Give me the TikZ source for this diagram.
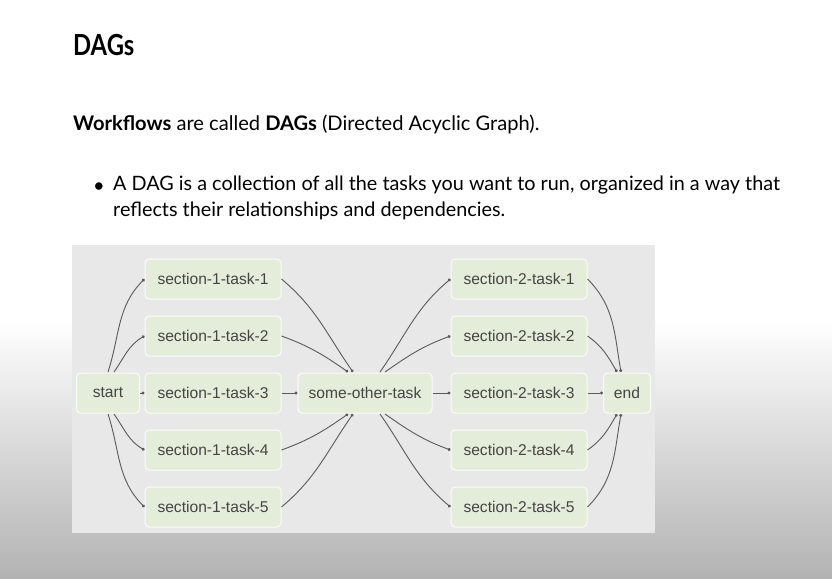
\documentclass[tikz,border=0pt]{standalone}
\usepackage{fontspec}
\setmainfont{Lato}
\setsansfont{Liberation Sans}
\usetikzlibrary{arrows.meta}
\definecolor{bgbox}{HTML}{E8E8E8}
\definecolor{nodefill}{HTML}{E3EDDA}
\definecolor{txt}{HTML}{454545}
\definecolor{edge}{HTML}{5A5A5A}
\begin{document}
\begin{tikzpicture}[x=1pt,y=-1pt,
  task/.style={draw=white!85!nodefill,line width=1pt,fill=nodefill,rounded corners=4pt,
     minimum height=40pt,font=\sffamily\fontsize{15.6}{18}\selectfont,text=txt,inner sep=0pt},
  wide/.style={task,minimum width=136pt},
  conn/.style={draw=edge,line width=0.9pt,-{Circle[length=3pt]}}]
\useasboundingbox (0,0) rectangle (832,578);
\fill[white] (0,0) rectangle (832,321);
\shade[top color=white,bottom color=black!30] (0,320) rectangle (832,578);
\node[anchor=west,font=\bfseries\fontsize{29}{32}\selectfont,xscale=0.82,inner sep=0pt] (title) at (73,45) {DAGs};
\node[anchor=west,font=\fontsize{20.1}{24}\selectfont,inner sep=0pt] (intro) at (73,124) {\textbf{Workflows} are called \textbf{DAGs} (Directed Acyclic Graph).};
\node[font=\fontsize{20}{22}\selectfont] (dot) at (99,188) {•};
\node[anchor=north west,align=left,font=\fontsize{19.8}{26}\selectfont,inner sep=0pt] (bullet) at (113,176)
  {A DAG is a collection of all the tasks you want to run, organized in a way that\\reflects their relationships and dependencies.};
\fill[bgbox] (72,245) rectangle (655,533);
\node[task,minimum width=63pt] (start) at (108,393) {start};
\foreach \i/\y in {1/279,2/336,3/393,4/450,5/507}{
  \node[wide] (a\i) at (213,\y) {section-1-task-\i};
  \node[wide] (b\i) at (519,\y) {section-2-task-\i};
}
\node[wide,minimum width=134pt] (mid) at (365,393) {some-other-task};
\node[task,minimum width=47pt] (end) at (627,393) {end};
\coordinate (s1) at (108,372); \coordinate (s2) at (114,372);
\coordinate (s4) at (114,414); \coordinate (s5) at (108,414);
\draw[conn] (s1) to[out=72,in=225] (a1.west);
\draw[conn] (s2) to[out=55,in=210] (a2.west);
\draw[conn] (start) -- (a3.west);
\draw[conn] (s4) to[out=-55,in=150] (a4.west);
\draw[conn] (s5) to[out=-72,in=135] (a5.west);
\coordinate (m1) at (353,372); \coordinate (m2) at (348,372);
\coordinate (m4) at (348,414); \coordinate (m5) at (353,414);
\draw[conn] (a1.east) to[out=-40,in=125] (m1);
\draw[conn] (a2.east) to[out=-20,in=145] (m2);
\draw[conn] (a3) -- (mid.west);
\draw[conn] (a4.east) to[out=20,in=-145] (m4);
\draw[conn] (a5.east) to[out=40,in=-125] (m5);
\coordinate (n1) at (380,372); \coordinate (n2) at (385,372);
\coordinate (n4) at (385,414); \coordinate (n5) at (380,414);
\draw[conn] (n1) to[out=55,in=220] (b1.west);
\draw[conn] (n2) to[out=35,in=200] (b2.west);
\draw[conn] (mid) -- (b3.west);
\draw[conn] (n4) to[out=-35,in=160] (b4.west);
\draw[conn] (n5) to[out=-55,in=140] (b5.west);
\coordinate (e1) at (621,372); \coordinate (e2) at (617,372);
\coordinate (e4) at (617,414); \coordinate (e5) at (621,414);
\draw[conn] (b1.east) to[out=-45,in=100] (e1);
\draw[conn] (b2.east) to[out=-35,in=120] (e2);
\draw[conn] (b3) -- (end.west);
\draw[conn] (b4.east) to[out=35,in=-120] (e4);
\draw[conn] (b5.east) to[out=45,in=-100] (e5);
\end{tikzpicture}
\end{document}
